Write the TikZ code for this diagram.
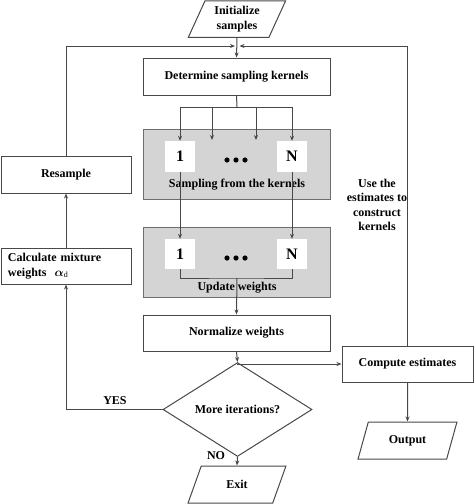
\documentclass[tikz,border=0pt]{standalone}
\usepackage{amsmath}
\usepackage{fontspec}
\setmainfont{Liberation Serif}
\usetikzlibrary{arrows.meta,shapes.geometric}
\definecolor{lc}{HTML}{484848}
\definecolor{gfill}{HTML}{D4D4D4}
\begin{document}
\begin{tikzpicture}[x=1pt,y=-1pt,
  every node/.style={font=\bfseries\fontsize{12}{14.5}\selectfont, text=black},
  box/.style={draw=lc, line width=1pt, fill=white, rectangle, inner sep=0pt},
  greybox/.style={draw=lc!80, line width=1pt, fill=gfill, rectangle, inner sep=0pt},
  idxbox/.style={fill=white, rectangle, inner sep=0pt, minimum width=30pt, minimum height=31pt, font=\bfseries\fontsize{16}{18}\selectfont},
  para/.style={draw=lc, line width=1pt, fill=white, trapezium, trapezium left angle=65, trapezium right angle=115, trapezium stretches=true, inner sep=0pt, align=center},
  dec/.style={draw=lc, line width=1pt, fill=white, diamond, inner sep=0pt, minimum width=149pt, minimum height=65pt},
  conn/.style={draw=lc, line width=1pt},
  arr/.style={conn, -{Stealth[length=5pt,width=4pt]}},
  lbl/.style={inner sep=0pt, align=center}
]
\useasboundingbox (0,0) rectangle (474,504);

% nodes
\node[para, minimum width=98pt, minimum height=36.5pt] (init) at (237,19) {Initialize\\samples};
\node[box, minimum width=187pt, minimum height=37pt] (det) at (236.5,76.5) {Determine sampling kernels};

\node[greybox, minimum width=187pt, minimum height=70pt] (g1) at (236.5,164) {};
\node[idxbox] (b1a) at (180,156.5) {1};
\node[idxbox] (bNa) at (292,156.5) {N};
\node[lbl] (samp) at (237,185) {Sampling from the kernels};

\node[greybox, minimum width=187pt, minimum height=70pt] (g2) at (236.5,262) {};
\node[idxbox, minimum height=30pt] (b1b) at (180,254) {1};
\node[idxbox, minimum height=30pt] (bNb) at (292,254) {N};
\node[lbl] (upd) at (237,288) {Update weights};

\node[box, minimum width=187pt, minimum height=36pt] (norm) at (236.5,333) {Normalize weights};

\node[box, minimum width=130pt, minimum height=37pt] (res) at (66,174.5) {Resample};
\node[box, minimum width=130pt, minimum height=36pt, align=left, text width=116pt] (calc) at (66,266) {Calculate mixture\\weights~~$\boldsymbol{\alpha}_{\mathrm{d}}$};

\node[box, minimum width=131pt, minimum height=36pt] (comp) at (407.5,364) {Compute estimates};
\node[para, minimum width=99pt, minimum height=37pt] (out) at (407.5,440.5) {Output};

\node[dec] (dia) at (237.5,409.5) {More iterations?};
\node[para, minimum width=98pt, minimum height=37pt] (exit) at (237,484.5) {Exit};

\node[lbl] (use) at (377,205) {Use the\\estimates to\\construct\\kernels};
\node[lbl] (yes) at (115,401) {YES};
\node[lbl] (no) at (216,456) {NO};

% dots
\foreach \y in {160,258}{
  \foreach \x in {227,236,245}{
    \fill[black] (\x,\y) circle (2.6pt);
  }
}

% helper coordinates
\coordinate (mL) at (235,46);
\coordinate (mR) at (239.5,46);
\coordinate (split) at (237,107);
\coordinate (k2) at (212,140);
\coordinate (k3) at (256,140);
\coordinate (join) at (237,278);
\coordinate (br) at (237,364);

% connectors
\draw[arr] (init.south) -- (det.north);
\draw[arr] (res.north) |- (mL);
\draw[arr] (comp.north) |- (mR);

\draw[conn] (det.south) -- (split);
\draw[arr] (split) -| (b1a.north);
\draw[arr] (split) -| (bNa.north);
\draw[arr] (k2 |- split) -- (k2);
\draw[arr] (k3 |- split) -- (k3);

\draw[arr] (b1a.south) -- (b1b.north);
\draw[arr] (bNa.south) -- (bNb.north);

\draw[conn] (b1b.south) |- (join) -| (bNb.south);
\draw[arr] (join) -- (norm.north);

\draw[arr] (norm.south) -- (dia.north);
\draw[arr] (br) -- (comp.west);

\draw[arr] (dia.west) -| (calc.south);
\draw[arr] (calc.north) -- (res.south);
\draw[arr] (dia.south) -- (exit.north);
\draw[arr] (comp.south) -- (out.north);
\end{tikzpicture}
\end{document}
